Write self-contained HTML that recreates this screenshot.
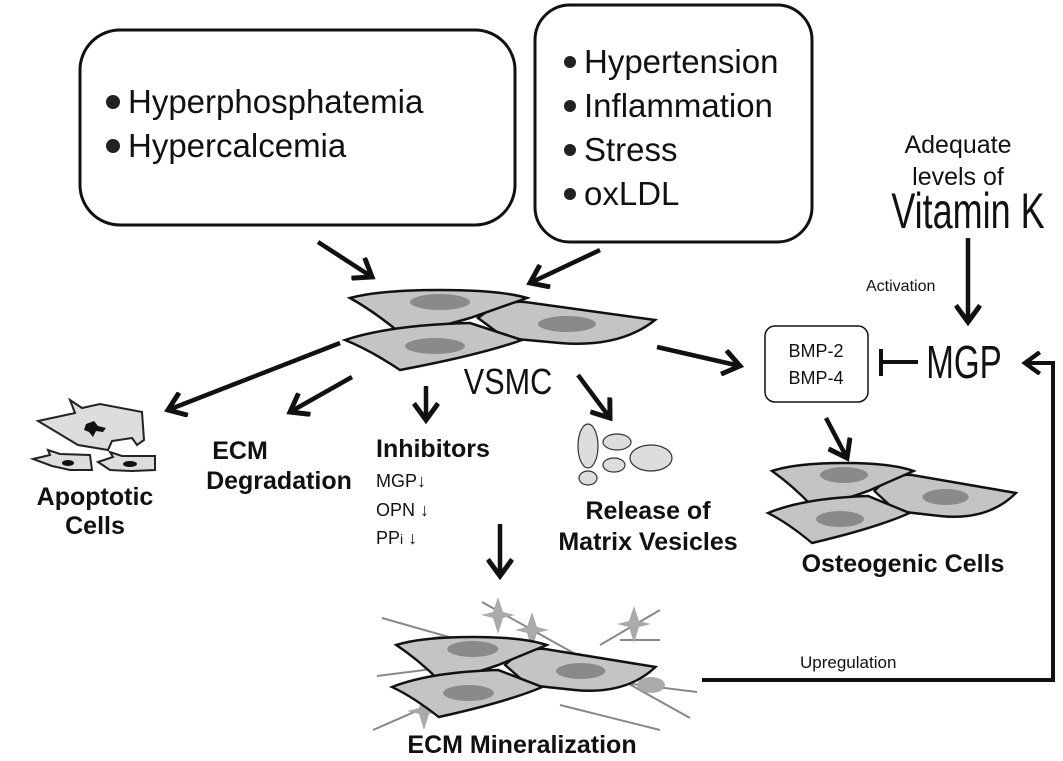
<!DOCTYPE html>
<html><head><meta charset="utf-8"><style>
html,body{margin:0;padding:0;background:#fff}
svg{display:block}
text{font-family:"Liberation Sans",sans-serif;fill:#111}
.b{font-weight:bold}
</style></head><body>
<svg width="1063" height="761" viewBox="0 0 1063 761" xmlns="http://www.w3.org/2000/svg">
<defs>
<marker id="ah" markerWidth="6" markerHeight="6" refX="4" refY="3" orient="auto" markerUnits="strokeWidth">
<path d="M0.3,0.3 L4,3 L0.3,5.7" fill="none" stroke="#111" stroke-width="1.1"/>
</marker>
<g id="cells">
<path d="M478,318 Q500,300 525,302 L655,320 Q620,348 560,343 L505,338 Z" fill="#c4c4c4" stroke="#111" stroke-width="2.5"/>
<ellipse cx="567" cy="324" rx="29" ry="8" fill="#8a8a8a"/>
<path d="M350,298 Q380,290 440,290 Q500,290 527,298 L470,318 Q430,330 400,333 Q375,312 350,298 Z" fill="#c4c4c4" stroke="#111" stroke-width="2.5"/>
<ellipse cx="440" cy="302" rx="30" ry="8" fill="#8a8a8a"/>
<path d="M345,340 Q390,325 470,323 L522,340 Q480,355 400,370 Q370,350 345,340 Z" fill="#c4c4c4" stroke="#111" stroke-width="2.5"/>
<ellipse cx="435" cy="346" rx="30" ry="8" fill="#8a8a8a"/>
</g>
</defs>
<rect width="1063" height="761" fill="#fff"/>
<!-- boxes -->
<rect x="80" y="30" width="435" height="195" rx="40" fill="#fff" stroke="#111" stroke-width="3"/>
<circle cx="113" cy="102" r="7" fill="#222"/><text x="128" y="113" font-size="33">Hyperphosphatemia</text>
<circle cx="113" cy="146" r="7" fill="#222"/><text x="128" y="157" font-size="33">Hypercalcemia</text>
<rect x="535" y="5" width="277" height="237" rx="35" fill="#fff" stroke="#111" stroke-width="3"/>
<circle cx="570" cy="62" r="6" fill="#222"/><text x="584" y="73" font-size="33">Hypertension</text>
<circle cx="570" cy="106" r="6" fill="#222"/><text x="584" y="117" font-size="33">Inflammation</text>
<circle cx="570" cy="150" r="6" fill="#222"/><text x="584" y="161" font-size="33">Stress</text>
<circle cx="570" cy="194" r="6" fill="#222"/><text x="584" y="205" font-size="33">oxLDL</text>
<!-- Vitamin K -->
<text x="958" y="153" font-size="25" text-anchor="middle">Adequate</text>
<text x="958" y="185" font-size="25" text-anchor="middle">levels of</text>
<text x="968" y="228" font-size="50" text-anchor="middle" transform="translate(968,0) scale(0.72,1) translate(-968,0)">Vitamin K</text>
<line x1="968" y1="238" x2="968" y2="322" stroke="#111" stroke-width="4.5" marker-end="url(#ah)"/>
<text x="866" y="291" font-size="16">Activation</text>
<text x="964" y="378" font-size="46" text-anchor="middle" transform="translate(964,0) scale(0.72,1) translate(-964,0)">MGP</text>
<line x1="918" y1="362" x2="883" y2="362" stroke="#111" stroke-width="4"/>
<line x1="881" y1="349" x2="881" y2="376" stroke="#111" stroke-width="4"/>
<rect x="765" y="326" width="103" height="76" rx="10" fill="#fff" stroke="#111" stroke-width="1.5"/>
<text x="816" y="357" font-size="18" text-anchor="middle">BMP-2</text>
<text x="816" y="384" font-size="18" text-anchor="middle">BMP-4</text>
<!-- cells -->
<use href="#cells"/>
<use href="#cells" transform="translate(768,463) scale(0.8,1) translate(-345,-290)"/>
<!-- mineralization fibers -->
<g stroke="#888" stroke-width="2">
<line x1="382" y1="618" x2="530" y2="660"/><line x1="482" y1="602" x2="690" y2="718"/>
<line x1="600" y1="645" x2="660" y2="610"/><line x1="377" y1="676" x2="440" y2="668"/>
<line x1="373" y1="730" x2="460" y2="692"/><line x1="620" y1="640" x2="660" y2="640"/>
<line x1="600" y1="680" x2="697" y2="692"/><line x1="560" y1="705" x2="660" y2="730"/>
</g>
<g fill="#aaa">
<ellipse cx="440" cy="644" rx="13" ry="8"/><ellipse cx="651" cy="685" rx="14" ry="8"/>
<path d="M498,597 l5,15 l12,3 l-12,3 l-5,16 l-5,-16 l-12,-3 l12,-3 Z"/>
<path d="M532,612 l5,15 l12,3 l-12,3 l-5,16 l-5,-16 l-12,-3 l12,-3 Z"/>
<path d="M634,606 l5,15 l12,3 l-12,3 l-5,16 l-5,-16 l-12,-3 l12,-3 Z"/>
<path d="M424,693 l5,15 l12,3 l-12,3 l-5,16 l-5,-16 l-12,-3 l12,-3 Z"/>
</g>
<use href="#cells" transform="translate(392,637) scale(0.85,1) translate(-345,-290)"/>
<text x="522" y="753" font-size="25" class="b" text-anchor="middle">ECM Mineralization</text>
<!-- upregulation -->
<polyline points="702,680 1053,680 1053,363 1025,363" fill="none" stroke="#111" stroke-width="4" marker-end="url(#ah)"/>
<text x="800" y="668" font-size="17">Upregulation</text>
<!-- arrows -->
<g stroke="#111" stroke-width="4.5" marker-end="url(#ah)">
<line x1="318" y1="242" x2="372" y2="277"/>
<line x1="600" y1="250" x2="530" y2="283"/>
<line x1="340" y1="343" x2="168" y2="410"/>
<line x1="352" y1="377" x2="290" y2="412"/>
<line x1="426" y1="386" x2="426" y2="420"/>
<line x1="578" y1="375" x2="610" y2="418"/>
<line x1="657" y1="347" x2="740" y2="366"/>
<line x1="500" y1="524" x2="500" y2="576"/>
<line x1="826" y1="418" x2="847" y2="458"/>
</g>
<text x="508" y="394" font-size="36" text-anchor="middle" transform="translate(508,0) scale(0.85,1) translate(-508,0)">VSMC</text>
<!-- apoptotic -->
<g fill="#ddd" stroke="#222" stroke-width="2">
<path d="M38,421 L75,413 L70,400 L82,408 L100,404 L142,412 L144,440 L137,445 L132,438 L112,441 L108,450 L78,445 Z"/>
<path d="M33,459 L50,455 L48,450 L60,454 L90,455 L92,470 L70,470 L52,466 Z"/>
<path d="M98,462 L113,457 L110,452 L122,456 L155,456 L155,470 L132,471 L110,470 Z"/>
</g>
<g fill="#111"><path d="M86,424 l8,-3 l4,5 l8,2 l-3,4 l-7,-1 l-3,6 l-4,-5 l-5,-2 Z"/>
<ellipse cx="68" cy="463" rx="6" ry="3"/><ellipse cx="130" cy="464" rx="7" ry="3"/></g>
<text x="95" y="505" font-size="25" class="b" text-anchor="middle">Apoptotic</text>
<text x="95" y="534" font-size="25" class="b" text-anchor="middle">Cells</text>
<text x="240" y="459" font-size="25" class="b" text-anchor="middle">ECM</text>
<text x="279" y="489" font-size="25" class="b" text-anchor="middle">Degradation</text>
<text x="376" y="457" font-size="25" class="b">Inhibitors</text>
<text x="376" y="487" font-size="18">MGP↓</text>
<text x="376" y="516" font-size="18">OPN ↓</text>
<text x="376" y="544" font-size="18">PP<tspan font-size="14">i</tspan> ↓</text>
<!-- vesicles -->
<g fill="#ddd" stroke="#333" stroke-width="1.2">
<ellipse cx="588" cy="446" rx="10" ry="22"/><ellipse cx="617" cy="442" rx="14" ry="8"/>
<ellipse cx="614" cy="465" rx="11" ry="7"/><ellipse cx="651" cy="458" rx="21" ry="13"/>
<ellipse cx="588" cy="478" rx="9" ry="7"/>
</g>
<text x="648" y="519" font-size="25" class="b" text-anchor="middle">Release of</text>
<text x="648" y="550" font-size="25" class="b" text-anchor="middle">Matrix Vesicles</text>
<text x="903" y="572" font-size="25" class="b" text-anchor="middle">Osteogenic Cells</text>
</svg>
</body></html>
